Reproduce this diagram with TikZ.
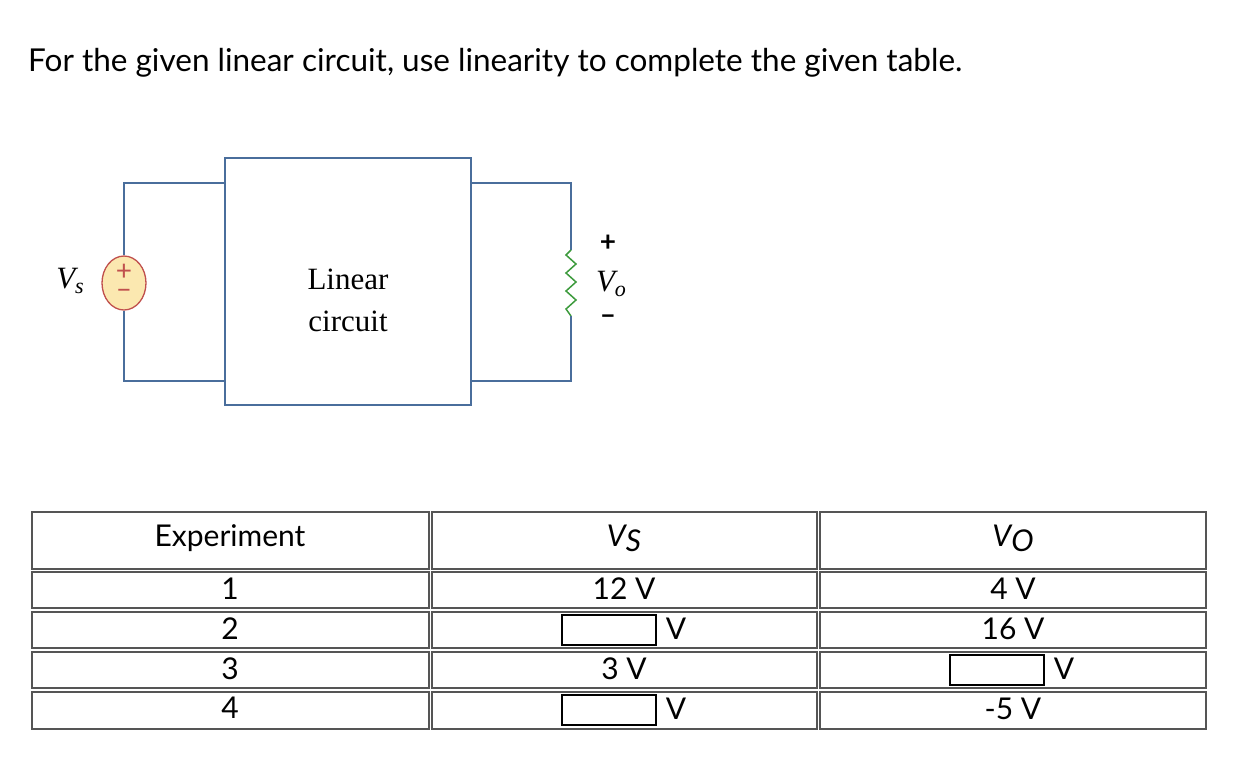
\documentclass[tikz,border=0pt]{standalone}
\usepackage{fontspec}
\setmainfont{Lato}
\newfontfamily\tms{Liberation Serif}
\usetikzlibrary{shapes.geometric}
\definecolor{wire}{HTML}{4A6E9C}
\definecolor{srcfill}{HTML}{FBE8B0}
\definecolor{srcline}{HTML}{C0504D}
\definecolor{res}{HTML}{3C9A3C}
\definecolor{cellb}{HTML}{555555}
\begin{document}
\begin{tikzpicture}[x=1pt,y=-1pt,
  w/.style={draw=wire,line width=1.6pt},
  cell/.style={draw=cellb,line width=1.3pt},
  inbox/.style={draw=black,line width=1.3pt,minimum width=94pt,minimum height=30pt,inner sep=0pt},
  txt/.style={font=\fontsize{30}{34}\selectfont,inner sep=0pt},
  ser/.style={font=\tms\fontsize{31}{42}\selectfont,inner sep=0pt,align=center}]
\useasboundingbox (0,0) rectangle (1256,782);
\node[txt,anchor=west,font=\fontsize{31.5}{36}\selectfont] (title) at (28,63) {For the given linear circuit, use linearity to complete the given table.};
% circuit
\node[w,minimum width=246pt,minimum height=247pt,inner sep=0pt] (box) at (348,281.5) {};
\node[ser] (lin) at (348,300) {Linear\\circuit};
\coordinate (lt) at (225,183); \coordinate (lb) at (225,381);
\coordinate (rt) at (471,183); \coordinate (rb) at (471,381);
\node[draw=srcline,fill=srcfill,line width=1.3pt,ellipse,minimum width=44pt,minimum height=54pt,inner sep=0pt] (src) at (124,283) {};
\node[inner sep=0pt,text=srcline,font=\fontsize{28}{28}\selectfont] (sp) at (124,272) {+};
\node[inner sep=0pt,text=srcline,font=\fontsize{28}{28}\selectfont] (sm) at (124,294) {--};
\draw[w] (lt) -- (124,183) -- (src.north);
\draw[w] (src.south) -- (124,381) -- (lb);
\coordinate (r1) at (571,250); \coordinate (r2) at (571,316);
\draw[w] (rt) -- (571,183) -- (r1);
\draw[w] (r2) -- (571,381) -- (rb);
\draw[res,line width=1.5pt] (r1) -- (566,255) -- (576,264) -- (566,273) -- (576,282) -- (566,291) -- (576,300) -- (566,309) -- (r2);
\node[ser] (vs) at (70,281) {\textit{V}\kern-3pt\raisebox{-5pt}{\fontsize{22}{22}\selectfont\textit{s}}};
\node[ser,font=\fontsize{28}{28}\selectfont\bfseries] (vp) at (608,243) {+};
\node[ser] (vo) at (611,284) {\textit{V}\kern-3pt\raisebox{-5pt}{\fontsize{22}{22}\selectfont\textit{o}}};
\node[ser,font=\fontsize{28}{28}\selectfont\bfseries] (vm) at (608,320) {--};
% table
\foreach \xa/\xb [count=\c] in {31/430,431/818,819/1207}{
  \foreach \ya/\yb [count=\r] in {511/570,571/609,611/649,651/689,691/730}{
    \draw[cell] (\xa+1,\ya+1) rectangle (\xb-1,\yb-1);
  }}
\node[txt] (h1) at (230,538) {Experiment};
\node[txt] (h2) at (624,538) {\textit{V\raisebox{-5pt}{S}}};
\node[txt] (h3) at (1013,538) {\textit{V\raisebox{-5pt}{O}}};
\foreach \n/\y in {1/589,2/629,3/669,4/708}{\node[txt] (e\n) at (230,\y) {\n};}
\node[txt] (a1) at (624,589) {12 V};
\node[inbox] (b2) at (609,630) {}; \node[txt] (u2) at (676,629) {V};
\node[txt] (a3) at (624,669) {3 V};
\node[inbox] (b4) at (609,710) {}; \node[txt] (u4) at (676,709) {V};
\node[txt] (c1) at (1013,589) {4 V};
\node[txt] (c2) at (1013,629) {16 V};
\node[inbox] (d3) at (997,670) {}; \node[txt] (v3) at (1064,669) {V};
\node[txt] (c4) at (1013,709) {-5 V};
\end{tikzpicture}
\end{document}
